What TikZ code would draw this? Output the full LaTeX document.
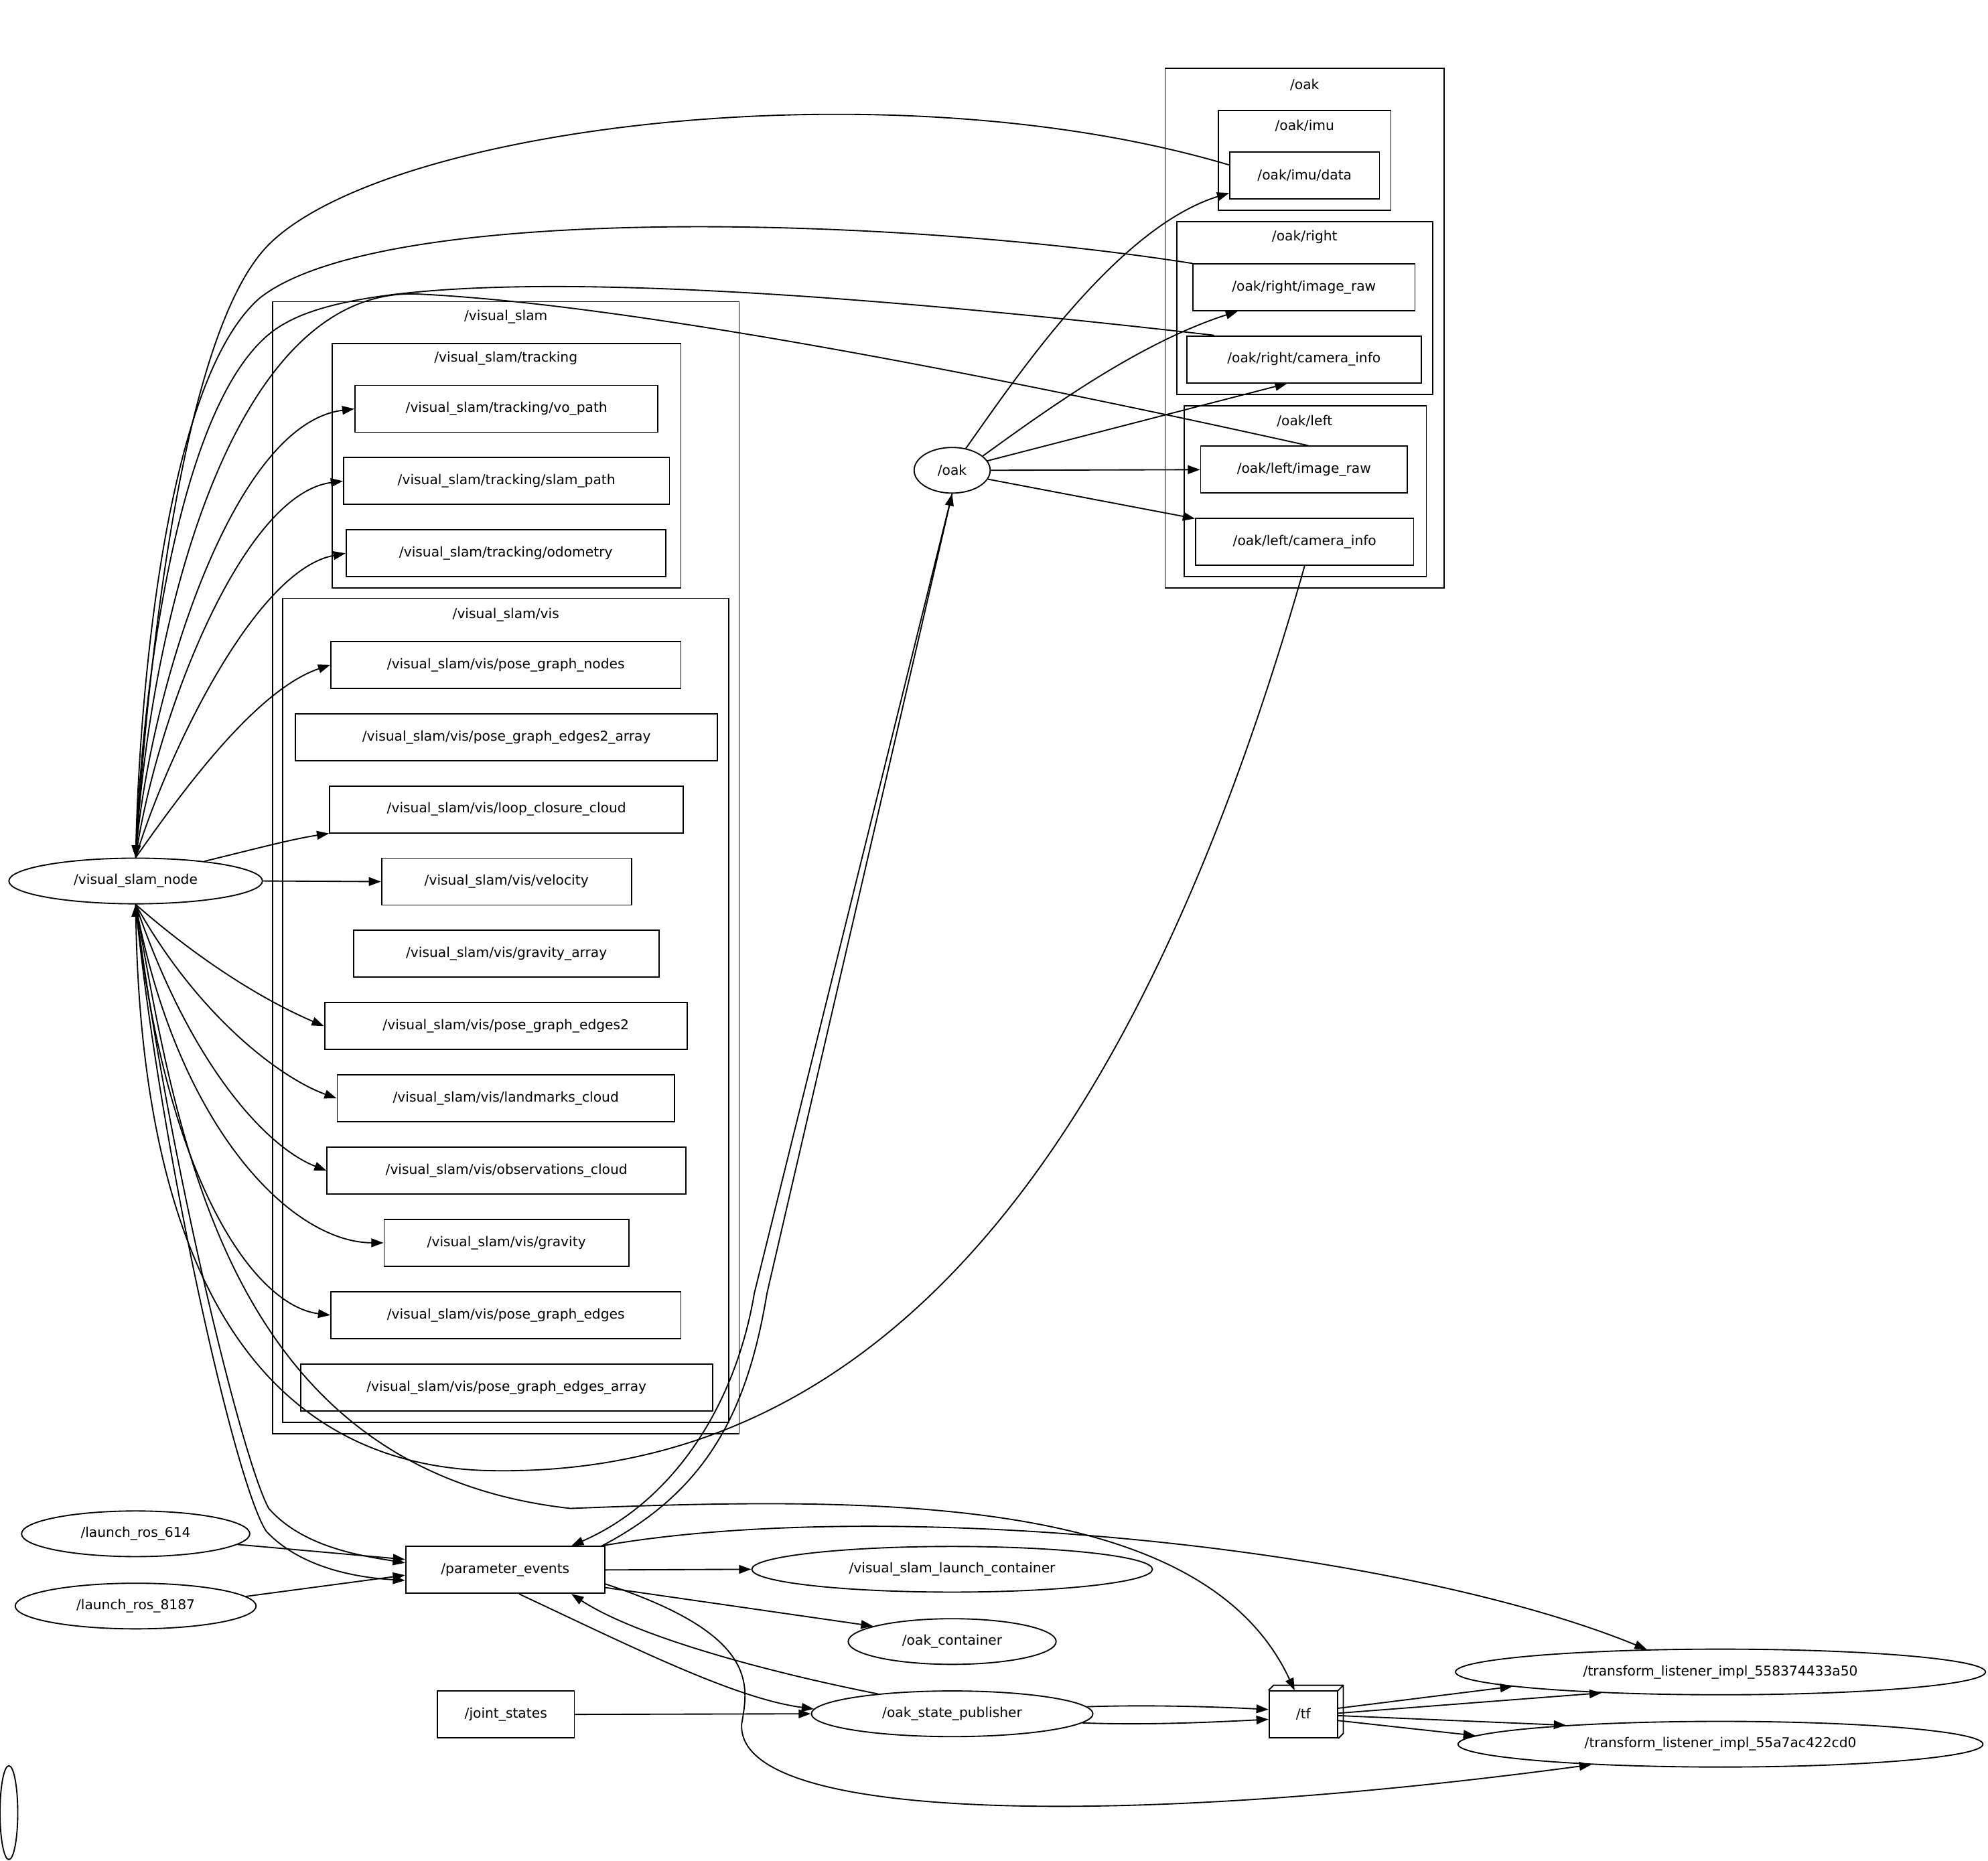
\documentclass[tikz,border=0pt]{standalone}
\usepackage{fontspec}
\setmainfont{DejaVu Sans}
\usetikzlibrary{shapes.geometric,arrows.meta,calc}
% topic box: name, x1, y1, x2, y2, text (pixel coordinates)
\newcommand\rosbox[6]{\node[topic, minimum width={(#4-#2)*0.025cm}, minimum height={(#5-#3)*0.025cm}] (#1) at ({(#2+#4)/2},{(#3+#5)/2}) {#6};}
% node ellipse: name, cx, cy, rx, text
\newcommand\rosell[5]{\node[rosnode, minimum width={2*#4*0.025cm}] (#1) at (#2,#3) {#5};}
\begin{document}
\begin{tikzpicture}[x=0.025cm, y=-0.025cm, line width=0.7pt,
  every node/.style={font=\fontsize{7.6}{9}\selectfont},
  topic/.style={draw, rectangle, inner sep=0pt},
  rosnode/.style={draw, ellipse, inner sep=0pt, minimum height=0.9cm},
  clus/.style={draw, line width=0.7pt},
  >={Triangle[length=2.4mm,width=1.7mm]},
  e/.style={->}]
\useasboundingbox (0,0) rectangle (1568,1468);

% clusters
\draw[clus] (215,238) rectangle (583,1131); \node at (399,250) {/visual\_slam};
\draw[clus] (262,271) rectangle (537,464); \node at (399,283) {/visual\_slam/tracking};
\draw[clus] (223,472) rectangle (575,1122); \node at (399,485) {/visual\_slam/vis};
\draw[clus] (919,54) rectangle (1139,464); \node at (1029,67) {/oak};
\draw[clus] (961,87) rectangle (1097,166); \node at (1029,99) {/oak/imu};
\draw[clus] (928,175) rectangle (1130,311); \node at (1029,187) {/oak/right};
\draw[clus] (934,320) rectangle (1125,455); \node at (1029,332) {/oak/left};

% topics
\rosbox{vo}{280}{304}{519}{341}{/visual\_slam/tracking/vo\_path}
\rosbox{slam}{271}{361}{528}{398}{/visual\_slam/tracking/slam\_path}
\rosbox{odo}{273}{418}{525}{455}{/visual\_slam/tracking/odometry}
\rosbox{pgn}{261}{506}{537}{543}{/visual\_slam/vis/pose\_graph\_nodes}
\rosbox{pgea2}{233}{563}{566}{600}{/visual\_slam/vis/pose\_graph\_edges2\_array}
\rosbox{loop}{260}{620}{539}{657}{/visual\_slam/vis/loop\_closure\_cloud}
\rosbox{vel}{301}{677}{498}{714}{/visual\_slam/vis/velocity}
\rosbox{grava}{279}{734}{520}{771}{/visual\_slam/vis/gravity\_array}
\rosbox{pge2}{256}{791}{542}{828}{/visual\_slam/vis/pose\_graph\_edges2}
\rosbox{lmc}{266}{848}{532}{885}{/visual\_slam/vis/landmarks\_cloud}
\rosbox{obs}{258}{905}{541}{942}{/visual\_slam/vis/observations\_cloud}
\rosbox{grav}{303}{962}{496}{999}{/visual\_slam/vis/gravity}
\rosbox{pge}{261}{1019}{537}{1056}{/visual\_slam/vis/pose\_graph\_edges}
\rosbox{pgea}{237}{1076}{562}{1113}{/visual\_slam/vis/pose\_graph\_edges\_array}
\rosbox{imud}{970}{120}{1088}{157}{/oak/imu/data}
\rosbox{rir}{941}{208}{1116}{245}{/oak/right/image\_raw}
\rosbox{rci}{936}{265}{1121}{302}{/oak/right/camera\_info}
\rosbox{lir}{947}{352}{1110}{389}{/oak/left/image\_raw}
\rosbox{lci}{943}{409}{1115}{446}{/oak/left/camera\_info}
\rosbox{pe}{320}{1220}{477}{1257}{/parameter\_events}
\rosbox{js}{345}{1334}{453}{1371}{/joint\_states}
\rosbox{tf}{1001}{1334}{1055}{1371}{/tf}
\draw (tf.north west) -- ++(4,-4) -- ($(tf.north east)+(4,-4)$) -- ($(tf.south east)+(4,-4)$) -- (tf.south east)
      (tf.north east) -- ++(4,-4);

% nodes
\rosell{oak}{751}{371}{30}{/oak}
\rosell{vsn}{107}{695}{100}{/visual\_slam\_node}
\rosell{lr614}{107}{1210}{90}{/launch\_ros\_614}
\rosell{lr8187}{107}{1267}{95}{/launch\_ros\_8187}
\rosell{vslc}{751}{1238}{158}{/visual\_slam\_launch\_container}
\rosell{oakc}{751}{1295}{82}{/oak\_container}
\rosell{osp}{751}{1352}{111}{/oak\_state\_publisher}
\rosell{tla}{1357}{1319}{209}{/transform\_listener\_impl\_558374433a50}
\rosell{tlb}{1357}{1376}{207}{/transform\_listener\_impl\_55a7ac422cd0}
\node[draw, ellipse, inner sep=0pt, minimum width=0.35cm, minimum height=1.85cm] (empty) at (7,1430) {};

% visual_slam_node publishers
\draw[e] (vsn.north) .. controls (115,560) and (180,335) .. (vo.west);
\draw[e] (vsn.north) .. controls (122,570) and (190,390) .. (slam.west);
\draw[e] (vsn.north) .. controls (130,600) and (200,450) .. (odo.west);
\draw[e] (vsn.north) .. controls (140,630) and (200,545) .. (pgn.west);
\draw[e] (vsn.16) .. controls (200,670) and (230,662) .. (loop.south west);
\draw[e] (vsn.east) -- (vel.west);
\draw[e] (vsn.south) .. controls (160,760) and (210,790) .. (pge2.west);
\draw[e] (vsn.south) .. controls (155,800) and (220,850) .. (lmc.west);
\draw[e] (vsn.south) .. controls (150,840) and (210,905) .. (obs.west);
\draw[e] (vsn.south) .. controls (140,890) and (230,980) .. (grav.west);
\draw[e] (vsn.south) .. controls (130,930) and (200,1030) .. (pge.west);

% oak topics into visual_slam_node
\draw[e] (imud.172) .. controls (700,50) and (300,100) .. (210,195) .. controls (140,270) and (115,550) .. (vsn.north);
\draw[e] (rir.168) .. controls (700,170) and (300,160) .. (205,235) .. controls (130,300) and (110,550) .. (vsn.north);
\draw[e] (rci.165) .. controls (700,235) and (320,200) .. (225,255) .. controls (140,300) and (112,550) .. (vsn.north);
\draw[e] (lir.80) .. controls (800,300) and (500,240) .. (330,232) .. controls (180,225) and (118,500) .. (vsn.north);
\draw[e] (lci.south) .. controls (900,900) and (700,1170) .. (380,1160) .. controls (150,1150) and (110,900) .. (vsn.south);

% oak publishers
\draw[e] (oak.58) .. controls (800,300) and (880,180) .. (imud.193);
\draw[e] (oak.25) .. controls (830,320) and (900,270) .. (rir.200);
\draw[e] (oak.15) -- (rci.235);
\draw[e] (oak.east) -- (lir.west);
\draw[e] (oak.-14) -- (lci.168);

% parameter events
\draw[e] (vsn.south) .. controls (130,900) and (190,1150) .. (212,1190) .. controls (240,1222) and (290,1228) .. (pe.176);
\draw[e] (vsn.south) .. controls (125,900) and (185,1170) .. (210,1208) .. controls (240,1240) and (290,1245) .. (pe.186);
\draw[e] (lr614.-6) -- (pe.174);
\draw[e] (lr8187.5) -- (pe.183);
\draw[e] (pe.14) .. controls (560,1175) and (590,1110) .. (605,1020) -- (oak.south);
\draw[e] (oak.south) -- (595,1020) .. controls (580,1110) and (530,1185) .. (pe.20);
\draw[e] (pe.east) -- (vslc.west);
\draw[e] (pe.-10) -- (oakc.169);
\draw[e] (pe.-60) .. controls (500,1300) and (580,1340) .. (osp.178);
\draw[e] (osp.165) .. controls (600,1318) and (500,1290) .. (pe.-20);
\draw[e] (pe.14) .. controls (700,1180) and (1100,1220) .. (tla.163);
\draw[e] (pe.-8) .. controls (600,1290) and (590,1330) .. (585,1360) .. controls (580,1440) and (900,1440) .. (tlb.-171);

% tf
\draw[e] (js.east) -- (osp.west);
\draw[e] (osp.3) .. controls (900,1345) and (950,1346) .. (tf.172);
\draw[e] (osp.-4) .. controls (900,1361) and (950,1359) .. (tf.188);
\draw[e] (vsn.south) .. controls (140,900) and (180,1160) .. (450,1190) .. controls (700,1180) and (950,1180) .. (tf.110);
\draw[e] (tf.10) -- (tla.-176);
\draw[e] (tf.2) -- (tla.-170);
\draw[e] (tf.-2) -- (tlb.173);
\draw[e] (tf.-10) -- (tlb.178);
\end{tikzpicture}
\end{document}
